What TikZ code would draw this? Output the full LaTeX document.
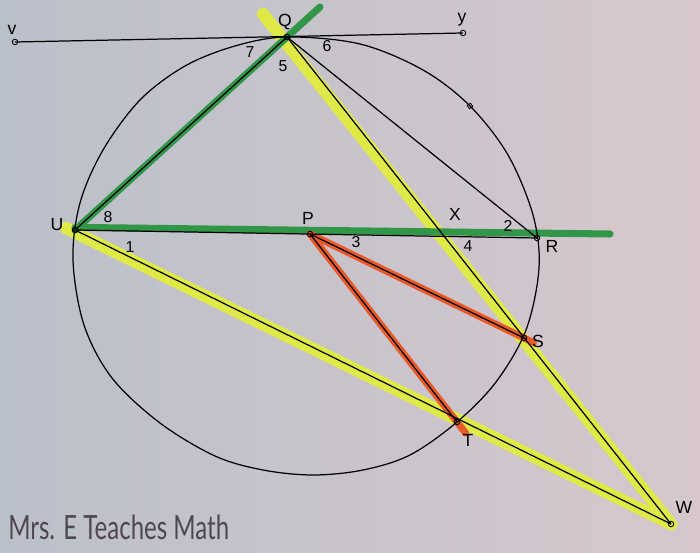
\documentclass[tikz,border=0pt]{standalone}
\usepackage{fontspec}
\usetikzlibrary{calc}
\setmainfont{Liberation Sans}
\newfontfamily\signfont{Lato}
\definecolor{paperL}{RGB}{186,192,202}
\definecolor{paperR}{RGB}{215,199,205}
\definecolor{hlyellow}{RGB}{224,234,70}
\definecolor{hlgreen}{RGB}{50,150,72}
\definecolor{hlorange}{RGB}{232,90,42}
\definecolor{signgray}{RGB}{80,72,80}
\begin{document}
\begin{tikzpicture}[x=0.02cm,y=-0.02cm]
\tikzstyle{pt}=[circle,draw=black,inner sep=0pt,minimum size=0.11cm,line width=0.5pt]
\tikzstyle{lbl}=[inner sep=0pt,font=\fontsize{10}{12}\selectfont]
\tikzstyle{ang}=[inner sep=0pt,font=\fontsize{9}{11}\selectfont]
\tikzstyle{ink}=[black,line width=0.7pt]
\tikzstyle{hly}=[hlyellow,line width=7pt,line cap=round]
\tikzstyle{hlg}=[hlgreen,line width=4pt,line cap=round]
\tikzstyle{hlo}=[hlorange,line width=4pt,line cap=round]
\useasboundingbox (0,0) rectangle (700,553);
\shade [left color=paperL,right color=paperR] (0,0) rectangle (700,553);
% points
\coordinate (Q) at (287,37);
\coordinate (U) at (75,230);
\coordinate (P) at (310,234);
\coordinate (R) at (537,238);
\coordinate (S) at (524,338);
\coordinate (T) at (457,422);
\coordinate (W) at (671,524);
\coordinate (v) at (15,42);
\coordinate (y) at (463,33);
\coordinate (gQ) at (320,7);
\coordinate (gR) at (610,234);
\coordinate (yQ) at (263,14);
\coordinate (yU) at (66,228);
% highlighter
\draw [hly] (yQ) -- (W);
\draw [hly] (yU) -- (W);
\draw [hlg] (U) -- (gQ);
\draw [hlg] ([yshift=1.5pt]U) -- (gR);
\draw [hlo] (P) -- ($(S)!-6pt!(P)$);
\draw [hlo] (P) -- ($(T)!-8pt!(P)$);
% the circle
\draw [ink] plot [smooth cycle,tension=0.55] coordinates {(287,37) (360,44) (423,70)
  (470,106) (508,155) (533,215) (539,268) (526,330) (496,382) (457,422) (410,455)
  (363,470) (313,475) (263,470) (215,456) (160,423) (112,378) (84,325) (73,260)
  (80,203) (103,150) (140,100) (185,66) (235,46)};
\node [draw=black,inner sep=0pt,minimum size=0.08cm,line width=0.5pt,rotate=35] (mk) at (470,106) {};
% lines
\draw [ink] (v) -- (y);
\draw [ink] (U) -- (Q);
\draw [ink] (Q) -- (R);
\draw [ink] (Q) -- (W);
\draw [ink] (U) -- (R);
\draw [ink] (U) -- (W);
\draw [ink] (P) -- (S);
\draw [ink] (P) -- (T);
% markers
\foreach \p in {v,y,Q,P,R,S,T,W}
  \node [pt] (m\p) at (\p) {};
\node [pt,fill=black!70!hlgreen] (mU) at (U) {};
% labels
\node [lbl] (lv) at (12,30) {v};
\node [lbl] (ly) at (462,20) {y};
\node [lbl] (lQ) at (285,22) {Q};
\node [lbl] (lU) at (57,225) {U};
\node [lbl] (lP) at (308,218) {P};
\node [lbl] (lR) at (552,246) {R};
\node [lbl] (lS) at (538,341) {S};
\node [lbl] (lT) at (468,440) {T};
\node [lbl] (lW) at (684,507) {W};
\node [lbl] (lX) at (455,214) {X};
\node [ang] (a7) at (250,52) {7};
\node [ang] (a6) at (327,46) {6};
\node [ang] (a5) at (283,66) {5};
\node [ang] (a8) at (108,217) {8};
\node [ang] (a1) at (130,247) {1};
\node [ang] (a3) at (356,242) {3};
\node [ang] (a4) at (468,246) {4};
\node [ang] (a2) at (508,226) {2};
\node [anchor=base west,inner sep=0pt,xscale=0.72,signgray,font=\signfont\fontsize{19}{22}\selectfont] (sign) at (8,540) {Mrs. E Teaches Math};
\end{tikzpicture}
\end{document}
